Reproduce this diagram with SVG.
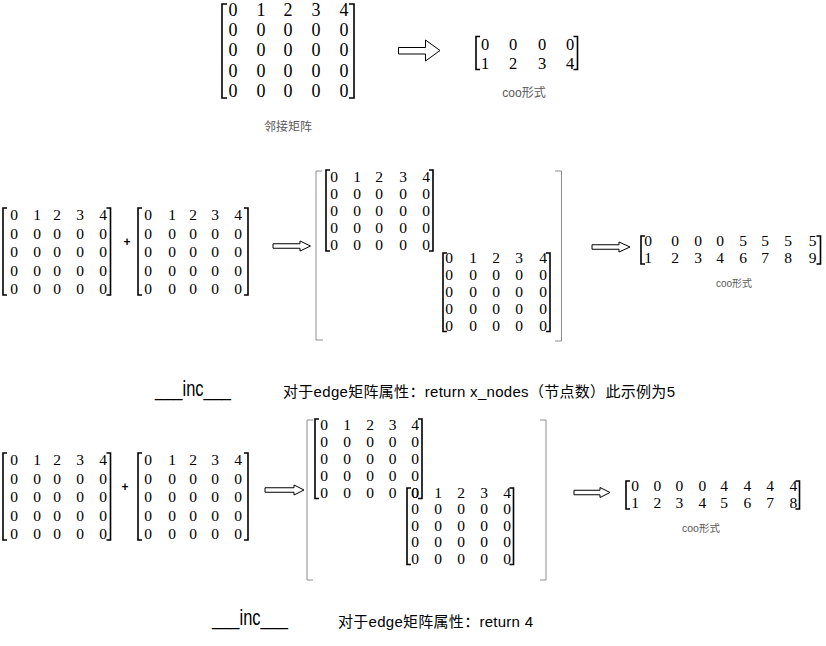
<svg xmlns="http://www.w3.org/2000/svg" width="826" height="646" viewBox="0 0 826 646">
<style>
.m{font-family:"Liberation Serif","DejaVu Serif",serif;fill:#000;text-anchor:middle}
.m16{font-size:18px}
.mt{font-size:16.5px}
.m13{font-size:15.5px}
.mc{font-size:15.5px}
.br{fill:none;stroke:#000;stroke-width:1.6}
.big{fill:none;stroke:#8c8c8c;stroke-width:1}
.arrow{fill:#fff;stroke:#000;stroke-width:1}
.cap{font-family:"Liberation Sans","Noto Sans CJK SC",sans-serif;fill:#595959;text-anchor:middle}
.note{font-family:"Liberation Sans","Noto Sans CJK SC",sans-serif;fill:#000}
.inc{font-family:"Liberation Sans","Noto Sans CJK SC",sans-serif;fill:#000;font-size:22px}
.plus{font-family:"Liberation Sans",sans-serif;font-weight:bold;font-size:12px;fill:#000;text-anchor:middle}
</style>
<rect width="826" height="646" fill="#fff"/>

<!-- Top section -->
<g id="top-matrix" class="m m16">
<text x="233 261 288 316 344" y="16">01234</text>
<text x="233 261 288 316 344" y="36.2">00000</text>
<text x="233 261 288 316 344" y="56.4">00000</text>
<text x="233 261 288 316 344" y="76.6">00000</text>
<text x="233 261 288 316 344" y="96.8">00000</text>
<path class="br" d="M227,4 H222 V98 H227 M349,4 H354 V98 H349"/>
</g>
<g id="top-caption"><text class="cap" x="288" y="130.5" font-size="12">邻接矩阵</text></g>
<g id="top-coo" class="m mt">
<text x="485 513 542 570" y="49.5">0000</text>
<text x="485 513 542 570" y="68.5">1234</text>
<path class="br" d="M480,36.5 H476 V69.5 H480 M573.5,36.5 H577.5 V69.5 H573.5"/>
</g>
<g id="top-coo-caption"><text class="cap" x="524" y="96.5" font-size="12">coo形式</text></g>

<!-- Middle section -->
<g id="mid-m1" class="m m13">
<text x="14 37 57 80 103" y="220">01234</text>
<text x="14 37 57 80 103" y="238.5">00000</text>
<text x="14 37 57 80 103" y="257">00000</text>
<text x="14 37 57 80 103" y="275.5">00000</text>
<text x="14 37 57 80 103" y="294">00000</text>
<path class="br" d="M7,208 H3 V295 H7 M106.5,208 H110.5 V295 H106.5"/>
</g>
<g id="mid-plus"><text class="plus" x="127" y="246">+</text></g>
<g id="mid-m2" class="m m13">
<text x="148 172 193 215 238" y="220">01234</text>
<text x="148 172 193 215 238" y="238.5">00000</text>
<text x="148 172 193 215 238" y="257">00000</text>
<text x="148 172 193 215 238" y="275.5">00000</text>
<text x="148 172 193 215 238" y="294">00000</text>
<path class="br" d="M142,208 H138 V295 H142 M244,208 H248 V295 H244"/>
</g>
<g id="mid-block">
<path class="big" d="M322,171 H316 V340 H323 M555,171 H561.5 V341 H555"/>
<g id="mid-inner1" class="m m13">
<text x="334 357 379 403 426" y="181.5">01234</text>
<text x="334 357 379 403 426" y="198.5">00000</text>
<text x="334 357 379 403 426" y="215.5">00000</text>
<text x="334 357 379 403 426" y="232.5">00000</text>
<text x="334 357 379 403 426" y="249.5">00000</text>
<path class="br" d="M330,170 H326 V251 H330 M429,170 H433 V251 H429"/>
</g>
<g id="mid-inner2" class="m m13">
<text x="449 473 496 519 543" y="262.5">01234</text>
<text x="449 473 496 519 543" y="279.5">00000</text>
<text x="449 473 496 519 543" y="296.5">00000</text>
<text x="449 473 496 519 543" y="313.5">00000</text>
<text x="449 473 496 519 543" y="330.5">00000</text>
<path class="br" d="M447,253 H443 V331.5 H447 M546,253 H550 V331.5 H546"/>
</g>
</g>
<g id="mid-coo" class="m mc">
<text x="648 675 698 720 743 765 788 812.5" y="245.5">00005555</text>
<text x="648 675 698 720 743 765 788 812.5" y="263">12346789</text>
<path class="br" d="M645,236 H641 V264 H645 M816.5,236 H820.5 V264 H816.5"/>
</g>
<g id="mid-coo-caption"><text class="cap" x="734" y="287" font-size="10">coo形式</text></g>
<g id="mid-inc"><text class="inc" x="155" y="396" textLength="76" lengthAdjust="spacingAndGlyphs">___inc___</text></g>
<g id="mid-note"><text class="note" x="283" y="397" font-size="15" textLength="392">对于edge矩阵属性：return x_nodes（节点数）此示例为5</text></g>

<!-- Bottom section -->
<g id="bot-m1" class="m m13">
<text x="14 37 57 80 103" y="465">01234</text>
<text x="14 37 57 80 103" y="483.5">00000</text>
<text x="14 37 57 80 103" y="502">00000</text>
<text x="14 37 57 80 103" y="520.5">00000</text>
<text x="14 37 57 80 103" y="539">00000</text>
<path class="br" d="M7,453 H3 V540 H7 M106.5,453 H110.5 V540 H106.5"/>
</g>
<g id="bot-plus"><text class="plus" x="125" y="491">+</text></g>
<g id="bot-m2" class="m m13">
<text x="148 172 193 215 238" y="465">01234</text>
<text x="148 172 193 215 238" y="483.5">00000</text>
<text x="148 172 193 215 238" y="502">00000</text>
<text x="148 172 193 215 238" y="520.5">00000</text>
<text x="148 172 193 215 238" y="539">00000</text>
<path class="br" d="M142,453 H138 V540 H142 M244,453 H248 V540 H244"/>
</g>
<g id="bot-block">
<path class="big" d="M313,420 H307 V580 H313 M540,420 H546 V580 H540"/>
<g id="bot-inner1" class="m m13">
<text x="324 347 370 392.5 415" y="429.5">01234</text>
<text x="324 347 370 392.5 415" y="446.5">00000</text>
<text x="324 347 370 392.5 415" y="463.5">00000</text>
<text x="324 347 370 392.5 415" y="480.5">00000</text>
<text x="324 347 370 392.5 415" y="497.5">00000</text>
<path class="br" d="M319,419 H315 V498.5 H319 M418,419 H422 V498.5 H418"/>
</g>
<g id="bot-inner2" class="m m13">
<text x="415 438 461 484 507" y="497.5">01234</text>
<text x="415 438 461 484 507" y="514">00000</text>
<text x="415 438 461 484 507" y="530.5">00000</text>
<text x="415 438 461 484 507" y="547">00000</text>
<text x="415 438 461 484 507" y="563.5">00000</text>
<path class="br" d="M411,488 H407 V564.5 H411 M509.5,488 H513.5 V564.5 H509.5"/>
</g>
</g>
<g id="bot-coo" class="m mc">
<text x="635 657.3 679.3 702.3 724 747.3 770 793.3" y="491">00004444</text>
<text x="635 657.3 679.3 702.3 724 747.3 770 793.3" y="508">12345678</text>
<path class="br" d="M630,481 H626 V509 H630 M795.5,481 H799.5 V509 H795.5"/>
</g>
<g id="bot-coo-caption"><text class="cap" x="701" y="531.5" font-size="10.5">coo形式</text></g>
<g id="bot-inc"><text class="inc" x="212" y="625" textLength="76" lengthAdjust="spacingAndGlyphs">___inc___</text></g>
<g id="bot-note"><text class="note" x="338" y="627" font-size="15" textLength="195">对于edge矩阵属性：return 4</text></g>

<!-- Connectors: hollow block arrows -->
<g id="connectors">
<path class="arrow" d="M398.5,47.5 H425.5 V40 L440,50.5 L425.5,61 V54 H398.5 Z"/>
<path class="arrow" d="M273,243.75 H300 V241 L310.5,246 L300,251 V248.25 H273 Z"/>
<path class="arrow" d="M592,244.75 H619 V242 L630,247 L619,252 V249.25 H592 Z"/>
<path class="arrow" d="M265,487.75 H294 V485 L304,490 L294,495 V492.25 H265 Z"/>
<path class="arrow" d="M574,490.25 H600 V487.5 L610,492.5 L600,497.5 V494.75 H574 Z"/>
</g>
</svg>
